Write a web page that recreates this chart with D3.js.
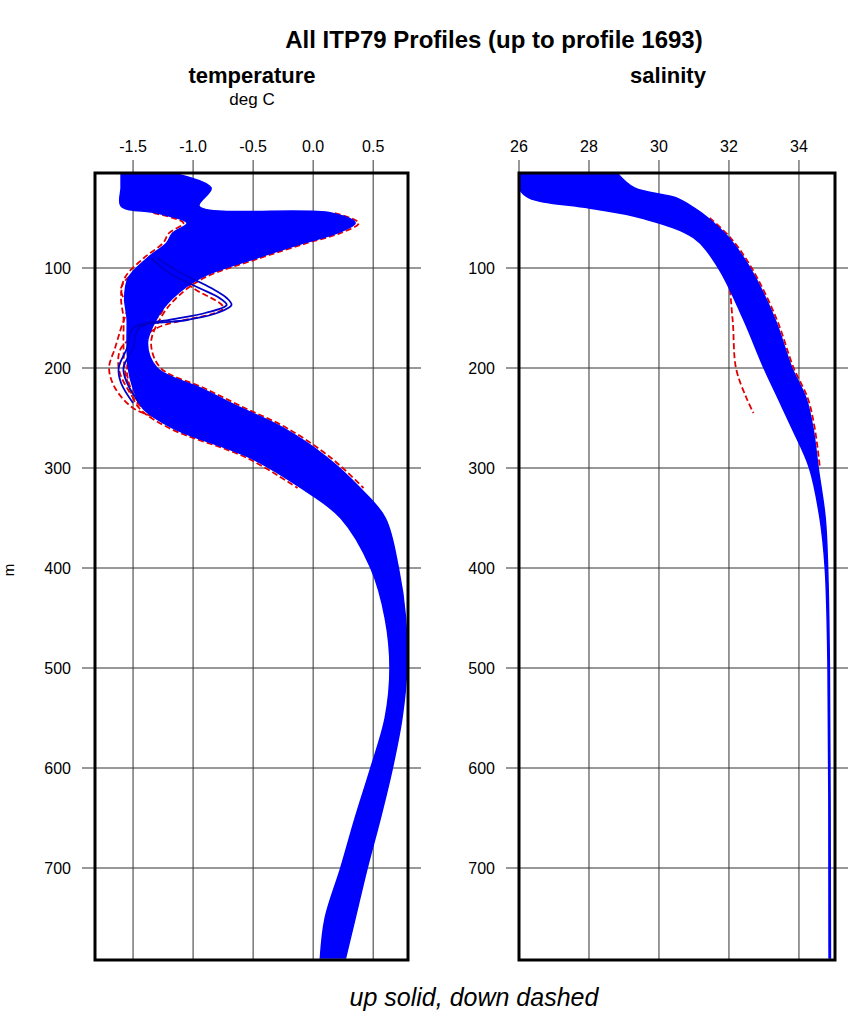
<!DOCTYPE html>
<html><head><meta charset="utf-8">
<script src="https://cdn.jsdelivr.net/npm/d3@7"></script>
<style>body{margin:0;background:#fff}svg{font-family:"Liberation Sans",Arial,sans-serif}</style>
</head><body><svg id="c" width="866" height="1024"></svg>
<script>
// envelope of up profiles (blue band): depth, min, max
var tDepth = [5, 20, 38, 45, 55, 65, 75, 90, 110, 130, 150, 175, 200, 220, 240, 260, 290, 320, 350, 400, 450, 500, 550, 600, 650, 700, 750, 790];
var tMin = [-1.6, -1.6, -1.6, -1.3, -1.05, -1.17, -1.22, -1.38, -1.54, -1.57, -1.55, -1.55, -1.54, -1.5, -1.42, -1.17, -0.52, -0.1, 0.23, 0.48, 0.6, 0.64, 0.6, 0.48, 0.35, 0.23, 0.1, 0.06];
var tMax = [-1.17, -0.85, -0.95, 0.15, 0.35, 0.2, -0.08, -0.47, -0.94, -1.17, -1.3, -1.38, -1.3, -0.94, -0.6, -0.25, 0.12, 0.39, 0.6, 0.71, 0.77, 0.78, 0.74, 0.66, 0.56, 0.45, 0.35, 0.27];
// outlier up profiles (intrusion loop)
var tOutDepth = [90, 105, 120, 130, 137, 145, 152, 160, 180, 200, 215, 235];
var tOut1 = [-1.3, -1.1, -0.85, -0.72, -0.68, -0.8, -1.05, -1.45, -1.5, -1.58, -1.55, -1.45];
var tOut2 = [-1.35, -1.2, -0.95, -0.78, -0.72, -0.9, -1.2, -1.5, -1.55, -1.62, -1.6, -1.5];
// down profiles (red dashed)
var tDownDepth = [60, 80, 100, 120, 140, 160, 180, 200, 220, 240, 250, 270, 300];
var tDown1 = [-0.9, -1.2, -1.45, -1.6, -1.55, -1.6, -1.65, -1.7, -1.65, -1.5, -1.3, -0.9, -0.3];
var tDown2 = [-0.7, -1.0, -1.3, -1.5, -1.25, -1.4, -1.6, -1.62, -1.55, -1.42, -1.2, -0.8, -0.2];
var tDown3 = [-0.6, -0.9, -1.2, -1.0, -0.75, -1.3, -1.5, -1.55, -1.52, -1.4, -1.1, -0.75, -0.15];

var sDepth = [5, 20, 30, 40, 50, 70, 100, 150, 200, 230, 260, 300, 350, 400, 500, 790];
var sMin = [26.0, 26.0, 26.3, 28.0, 29.5, 31.0, 31.7, 32.4, 33.0, 33.4, 33.8, 34.3, 34.6, 34.75, 34.83, 34.86];
var sMax = [28.8, 29.3, 30.5, 31.0, 31.4, 32.0, 32.6, 33.3, 33.8, 34.2, 34.4, 34.55, 34.75, 34.82, 34.87, 34.9];
var sDownDepth = [30, 50, 80, 100, 150, 200, 230, 245];
var sDown1 = [28.0, 30.0, 31.5, 31.9, 32.1, 32.2, 32.5, 32.7];

var tTicks = [-1.5, -1.0, -0.5, 0.0, 0.5];
var sTicks = [26, 28, 30, 32, 34];
var dTicks = [100, 200, 300, 400, 500, 600, 700];

var svg = d3.select('#c');
var y = d3.scaleLinear().domain([5, 792]).range([173, 960]);

function panel(id, x0, x1, dom, ticks, fmt, drawData) {
  var x = d3.scaleLinear().domain(dom).range([x0, x1]);
  var g = svg.append('g');
  g.append('clipPath').attr('id', id).append('rect')
    .attr('x', x0).attr('y', 173).attr('width', x1 - x0).attr('height', 787);
  // grid
  g.selectAll('.gx').data(ticks).join('line').attr('x1', d => x(d)).attr('x2', d => x(d))
    .attr('y1', 160).attr('y2', 960).attr('stroke', '#333').attr('stroke-width', 1);
  g.selectAll('.gy').data(dTicks).join('line').attr('x1', x0 - 13).attr('x2', x1 + 13)
    .attr('y1', d => y(d)).attr('y2', d => y(d)).attr('stroke', '#333').attr('stroke-width', 1);
  g.selectAll('.tx').data(ticks).join('text').attr('x', d => x(d)).attr('y', 152)
    .attr('text-anchor', 'middle').attr('font-size', 16).text(fmt);
  g.selectAll('.ty').data(dTicks).join('text').attr('x', x0 - 24).attr('y', d => y(d) + 6)
    .attr('text-anchor', 'end').attr('font-size', 16).text(d => d);
  var d = g.append('g').attr('clip-path', 'url(#' + id + ')');
  drawData(d, x);
  g.append('rect').attr('x', x0).attr('y', 173).attr('width', x1 - x0).attr('height', 787)
    .attr('fill', 'none').attr('stroke', '#000').attr('stroke-width', 3);
}

function line(g, x, depth, vals, col, dash) {
  var ln = d3.line().x((v, i) => x(v)).y((v, i) => y(depth[i])).curve(d3.curveCatmullRom);
  g.append('path').attr('d', ln(vals)).attr('fill', 'none').attr('stroke', col)
    .attr('stroke-width', 1.8).attr('stroke-dasharray', dash ? '6,3' : null);
}
function band(g, x, depth, lo, hi) {
  var ar = d3.area().y((v, i) => y(depth[i])).x0((v, i) => x(lo[i])).x1((v, i) => x(hi[i]))
    .curve(d3.curveCatmullRom);
  g.append('path').attr('d', ar(lo)).attr('fill', '#0000ff').attr('stroke', '#0000ff').attr('stroke-width', 1.5);
}

panel('clipT', 95, 408, [-1.817, 0.79], tTicks, d => d.toFixed(1), function (g, x) {
  [tDown1, tDown2, tDown3].forEach(v => line(g, x, tDownDepth, v, '#e00000', true));
  line(g, x, tDepth.slice(3, 18), tMin.slice(3, 18).map(v => v - 0.03), '#e00000', true);
  line(g, x, tDepth.slice(3, 18), tMax.slice(3, 18).map(v => v + 0.03), '#e00000', true);
  band(g, x, tDepth, tMin, tMax);
  [tOut1, tOut2].forEach(v => line(g, x, tOutDepth, v, '#0000cc', false));
});
panel('clipS', 519, 835, [26, 35.03], sTicks, d => d, function (g, x) {
  line(g, x, sDownDepth, sDown1, '#e00000', true);
  line(g, x, sDepth.slice(4, 12), sMax.slice(4, 12).map(v => v + 0.05), '#e00000', true);
  band(g, x, sDepth, sMin, sMax);
});

svg.append('text').attr('x', 494).attr('y', 48).attr('text-anchor', 'middle')
  .attr('font-size', 24).attr('font-weight', 'bold').text('All ITP79 Profiles (up to profile 1693)');
svg.append('text').attr('x', 252).attr('y', 83).attr('text-anchor', 'middle')
  .attr('font-size', 22).attr('font-weight', 'bold').text('temperature');
svg.append('text').attr('x', 252).attr('y', 105).attr('text-anchor', 'middle')
  .attr('font-size', 17).text('deg C');
svg.append('text').attr('x', 668).attr('y', 83).attr('text-anchor', 'middle')
  .attr('font-size', 22).attr('font-weight', 'bold').text('salinity');
svg.append('text').attr('transform', 'translate(14,570) rotate(-90)').attr('text-anchor', 'middle')
  .attr('font-size', 15).text('m');
svg.append('text').attr('x', 474).attr('y', 1006).attr('text-anchor', 'middle')
  .attr('font-size', 25).attr('font-style', 'italic').text('up solid, down dashed');
</script></body></html>
